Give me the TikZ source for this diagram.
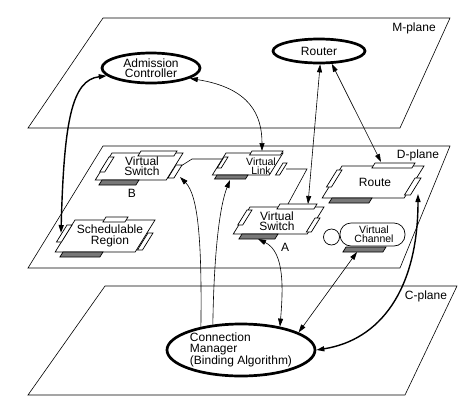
\documentclass[tikz,border=0pt]{standalone}
\usepackage{fontspec}
\setmainfont{Liberation Sans}
\usetikzlibrary{shapes.geometric,arrows.meta}

\definecolor{barfill}{gray}{0.47}

% slanted box: [style]{top left x}{top left y}{width}{height}
\newcommand{\pgbox}[5][]{\draw[#1] (#2,#3) -- ++(#4,0) -- ++({-0.62*#5},#5) -- ++(-#4,0) -- cycle;}

\tikzset{
  plane/.style={line width=0.6pt},
  body/.style={line width=0.7pt, fill=white},
  port/.style={line width=0.7pt, fill=white},
  bar/.style={line width=0.7pt, fill=barfill},
  func/.style={ellipse, draw, line width=2.7pt, inner sep=0pt},
  lbl/.style={font=\fontsize{12}{10.5}\selectfont, align=center, inner sep=0pt},
  slbl/.style={font=\fontsize{10.5}{9.5}\selectfont, align=center, inner sep=0pt},
  wire/.style={line width=0.6pt},
  ctl/.style={<->, line width=0.6pt},
  heavy/.style={<->, line width=1.4pt},
}

\begin{document}
\begin{tikzpicture}[x=1pt, y=-1pt, >={Triangle[length=8pt,width=5pt]}]
      \useasboundingbox (0,0) rectangle (474,405);
      %
      \draw[plane] (103,18) -- (450,18) -- (400,128) -- (28,128) -- cycle;    % M-plane
      \draw[plane] (103,146) -- (450,146) -- (400,268) -- (28,268) -- cycle;  % D-plane
      \draw[plane] (105,286) -- (457,286) -- (405,395) -- (28,395) -- cycle;  % C-plane
      \node[lbl] (mp) at (414,28) {M-plane};
      \node[lbl] (dp) at (418,155) {D-plane};
      \node[lbl] (cp) at (426,296) {C-plane};
      %% M-plane and C-plane
      \node[func, lbl, minimum width=98pt, minimum height=30pt] (ac) at (151,68) {Admission\\Controller};
      \node[func, lbl, minimum width=92pt, minimum height=24pt] (router) at (319,51) {Router};
      \node[func, lbl, align=left, minimum width=148pt, minimum height=52pt] (cm) at (241,350) {Connection\\Manager\\(Binding Algorithm)};
      %% D-plane
      \pgbox[body]{112}{153}{71}{27}       % virtual switch B
      \pgbox[port]{141}{151}{36}{5}
      \pgbox[port]{109}{157}{5}{15}
      \pgbox[port]{176}{165}{6}{13}
      \pgbox[bar]{102}{180}{37}{5}
      \node[lbl] (vsb) at (142,166) {Virtual\\Switch};
      \node[lbl] (b) at (132,193) {B};
      %
      \pgbox[body]{75}{220}{80}{32}        % schedulable region
      \pgbox[port]{106}{217}{22}{5}
      \pgbox[port]{67}{225}{5}{17}
      \pgbox[port]{148}{233}{5}{17}
      \pgbox[bar]{63}{252}{40}{5}
      \node[lbl] (sr) at (110,236) {Schedulable\\Region};
      %
      \pgbox[body]{226}{153}{57}{22}       % virtual link
      \pgbox[port]{252}{151}{31}{4}
      \pgbox[port]{224}{157}{4}{11}
      \pgbox[port]{283}{163}{4}{12}
      \pgbox[bar]{217}{175}{31}{4}
      \node[slbl] (vl) at (261,166) {Virtual\\Link};
      %
      \pgbox[body]{250}{207}{74}{27}       % virtual switch A
      \pgbox[port]{280}{204}{37}{5}
      \pgbox[port]{247}{210}{5}{15}
      \pgbox[port]{315}{218}{5}{14}
      \pgbox[bar]{242}{234}{36}{5}
      \node[lbl] (vsa) at (277,221) {Virtual\\Switch};
      \node[lbl] (a) at (285,247) {A};
      %
      \pgbox[body]{342}{166}{82}{32}       % route
      \pgbox[port]{375}{163}{40}{5}
      \pgbox[port]{337}{170}{5}{17}
      \pgbox[port]{415}{178}{6}{17}
      \pgbox[bar]{332}{198}{40}{5}
      \node[lbl] (rt) at (375,182) {Route};
      %
      \draw[body, rounded corners=11pt] (340,223) rectangle (405,246);   % virtual channel
      \draw[body] (331.5,237) circle[radius=8pt];
      \pgbox[bar]{346}{247}{40}{5}
      \node[slbl] (vc) at (374,234) {Virtual\\Channel};
      %% end points
      \coordinate (sr-l) at (61,233);
      \coordinate (vl-t) at (262,151);
      \coordinate (vsa-t) at (308,204);
      \coordinate (rt-t) at (381,162);
      \coordinate (vsb-r) at (180,177);
      \coordinate (vl-b) at (230,180);
      \coordinate (vsa-b) at (258,239);
      \coordinate (vc-b) at (357,252);
      \coordinate (rt-r) at (418,194);
      \coordinate (vsb-w) at (181,166);
      \coordinate (vl-w) at (222,159);
      \coordinate (vl-e) at (286,169);
      \coordinate (vsa-w) at (288,204);
      %% connectors
      \draw[wire] (vsb-w) -- ++(11,-7) -- (vl-w);
      \draw[wire] (vl-e) -- ++(21,0) -- (vsa-w);
      \draw[heavy] (ac.190) .. controls (72,80) and (64,120) .. (sr-l);
      \draw[ctl] (ac.-15) .. controls (250,88) and (262,115) .. (vl-t);
      \draw[ctl] (router.-85) -- (vsa-t);
      \draw[ctl] (router.-45) -- (rt-t);
      \draw[ctl, ->] (cm.150) .. controls (202,240) and (198,195) .. (vsb-r);
      \draw[ctl, ->] (cm.138) .. controls (214,250) and (220,205) .. (vl-b);
      \draw[ctl] (vsa-b) .. controls (285,252) and (283,290) .. (cm.31);
      \draw[ctl] (vc-b) -- (cm.17);
      \draw[heavy] (cm.east) .. controls (380,340) and (418,290) .. (rt-r);
      %
    \end{tikzpicture}
\end{document}
